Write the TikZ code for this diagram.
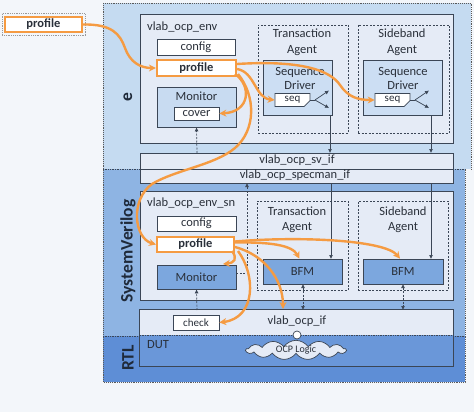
\documentclass[tikz,border=0pt]{standalone}
\usepackage{fontspec}
\setmainfont{Carlito}
\usetikzlibrary{arrows.meta,shapes.symbols,shapes.misc}
\definecolor{pagebg}{HTML}{F3F6FA}
\definecolor{ebg}{HTML}{C5DBF1}
\definecolor{svbg}{HTML}{8EB4E3}
\definecolor{rtlbg}{HTML}{5E8ED6}
\definecolor{innerc}{HTML}{E5EBF6}
\definecolor{sdfill}{HTML}{CCDEF3}
\definecolor{monefill}{HTML}{C8DBF1}
\definecolor{bfmfill}{HTML}{7CA7DE}
\definecolor{dutfill}{HTML}{6A97D9}
\definecolor{boxline}{HTML}{3B4656}
\definecolor{textc}{HTML}{2A303A}
\definecolor{sidec}{HTML}{1F2A3A}
\definecolor{orangec}{HTML}{F59B42}
\begin{document}
\begin{tikzpicture}[x=1pt,y=-1pt,
  box/.style={draw=boxline, line width=0.7pt, inner sep=0pt, font=\fontsize{12.5}{14}\selectfont, text=textc},
  lbl/.style={font=\fontsize{12.5}{14}\selectfont, text=textc, inner sep=0pt},
  orangebox/.style={draw=orangec, line width=2.2pt, fill=white, inner sep=0pt, font=\bfseries\fontsize{12.5}{14}\selectfont, text=textc},
  dashbox/.style={draw=boxline, line width=0.7pt, dash pattern=on 2pt off 1.5pt, inner sep=0pt},
  oarrow/.style={draw=orangec, line width=2.4pt, -{Stealth[length=7pt,width=7pt]}},
  darrow/.style={draw=boxline, line width=0.7pt, -{Latex[length=4pt,width=4pt]}},
  ddash/.style={draw=boxline, line width=0.7pt, dash pattern=on 2pt off 1.5pt},
  outerb/.style={draw=gray!70!black, line width=0.9pt, densely dotted},
  sepline/.style={draw=boxline, line width=0.7pt, densely dotted},
  side/.style={font=\bfseries\fontsize{17.5}{17.5}\selectfont, text=sidec, rotate=90, inner sep=0pt}
]
\useasboundingbox (0,0) rectangle (474,412);
\fill[pagebg] (0,0) rectangle (474,412);
% bands
\fill[ebg] (103,3) rectangle (471,169);
\fill[svbg] (103,169) rectangle (465,336);
\fill[rtlbg] (103,336) rectangle (465,382);
\draw[outerb] (103,3) -- (471,3) -- (471,169);
\draw[outerb] (103,3) -- (103,382) -- (465,382) -- (465,169);
\draw[sepline] (103,169) -- (465,169);
\draw[sepline] (103,336) -- (465,336);
\node[side] (lblE) at (128,97) {e};
\node[side] (lblSV) at (128,251) {SystemVerilog};
\node[side] (lblRTL) at (128,358) {RTL};

% ---------- e environment ----------
\node[box, fill=innerc, minimum width=313, minimum height=129] (envE) at (296.5,78.5) {};
\node[lbl, anchor=west] (envElbl) at (147,27) {vlab\_ocp\_env};
\node[box, fill=white, minimum width=78, minimum height=16] (configE) at (196,47) {config};
\node[orangebox, minimum width=79, minimum height=16] (profileE) at (196.5,68) {profile};
\node[box, fill=monefill, minimum width=79, minimum height=40] (monE) at (196.5,107) {};
\node[lbl] (monElbl) at (196.5,96) {Monitor};
\node[box, fill=white, minimum width=45, minimum height=13] (cover) at (196.5,113.5) {cover};

\node[dashbox, minimum width=90, minimum height=108] (taE) at (303,79) {};
\node[dashbox, minimum width=91, minimum height=108] (sbE) at (403.5,79) {};
\node[lbl, align=center, font=\fontsize{12.5}{16}\selectfont] (taElbl) at (302,42) {Transaction\\Agent};
\node[lbl, align=center, font=\fontsize{12.5}{16}\selectfont] (sbElbl) at (402,42) {Sideband\\Agent};
\node[box, fill=sdfill, minimum width=69, minimum height=55] (sd1) at (297.5,87.5) {};
\node[box, fill=sdfill, minimum width=79, minimum height=55] (sd2) at (402.5,87.5) {};
\node[lbl, align=center, font=\fontsize{12.5}{14}\selectfont] (sd1lbl) at (300,78) {Sequence\\Driver};
\node[lbl, align=center, font=\fontsize{12.5}{14}\selectfont] (sd2lbl) at (403,78) {Sequence\\Driver};
\node[box, fill=white, chamfered rectangle, chamfered rectangle corners=south east, chamfered rectangle xsep=3pt, chamfered rectangle ysep=3pt, minimum width=35, minimum height=12, font=\fontsize{11}{12}\selectfont] (seq1) at (292.5,100) {seq};
\node[box, fill=white, chamfered rectangle, chamfered rectangle corners=south east, chamfered rectangle xsep=3pt, chamfered rectangle ysep=3pt, minimum width=35, minimum height=12, font=\fontsize{11}{12}\selectfont] (seq2) at (392.5,100) {seq};
\coordinate (f1) at (315,100);
\coordinate (f1a) at (329,90.5);
\coordinate (f1b) at (329,108);
\coordinate (f2) at (415,100);
\coordinate (f2a) at (429,90.5);
\coordinate (f2b) at (429,108);
\draw[boxline, line width=0.7pt] (seq1.east) -- (f1);
\draw[darrow] (f1) -- (f1a);
\draw[darrow] (f1) -- (f1b);
\draw[boxline, line width=0.7pt] (seq2.east) -- (f2);
\draw[darrow] (f2) -- (f2a);
\draw[darrow] (f2) -- (f2b);

% ---------- interfaces ----------
\node[box, fill=innerc, minimum width=313, minimum height=16] (svif) at (296.5,161) {};
\node[box, fill=innerc, minimum width=313, minimum height=14] (specif) at (296.5,176) {};
\node[lbl] (sviflbl) at (297,160.5) {vlab\_ocp\_sv\_if};
\node[lbl] (speciflbl) at (295,175.5) {vlab\_ocp\_specman\_if};

\draw[darrow] (330,115) -- (330,153);
\draw[darrow] (431,115) -- (431,153);
\draw[ddash, -{Latex[length=4pt,width=4pt]}] (197,153) -- (monE.south);

% ---------- SV environment ----------
\node[box, fill=innerc, minimum width=313, minimum height=109] (envSV) at (296.5,245.5) {};
\node[lbl, anchor=west] (envSVlbl) at (147,203) {vlab\_ocp\_env\_sn};
\node[box, fill=white, minimum width=79, minimum height=15] (configSV) at (196.5,223.5) {config};
\node[orangebox, minimum width=77, minimum height=15] (profileSV) at (195.5,244.5) {profile};
\node[box, fill=bfmfill, minimum width=79, minimum height=24] (monSV) at (196.5,277) {Monitor};
\node[dashbox, minimum width=91, minimum height=89] (taSV) at (302.5,245.5) {};
\node[dashbox, minimum width=90, minimum height=89] (sbSV) at (403,245.5) {};
\node[lbl, align=center, font=\fontsize{12.5}{15}\selectfont] (taSVlbl) at (297,219.5) {Transaction\\Agent};
\node[lbl, align=center, font=\fontsize{12.5}{15}\selectfont] (sbSVlbl) at (403,219.5) {Sideband\\Agent};
\node[box, fill=bfmfill, minimum width=79, minimum height=25] (bfm1) at (302.5,271.5) {BFM};
\node[box, fill=bfmfill, minimum width=80, minimum height=25] (bfm2) at (403,271.5) {BFM};

\draw[darrow] (331,183) -- (331,259);
\draw[darrow] (431,183) -- (431,259);
\coordinate (mc) at (247,273);
\draw[ddash, -{Latex[length=4pt,width=4pt]}] (monSV.east |- mc) -- (mc) -- (247,183);

% ---------- ocp_if and DUT ----------
\node[fill=innerc, inner sep=0pt, minimum width=313, minimum height=25] (ocpif) at (296.5,322.5) {};
\node[fill=dutfill, inner sep=0pt, minimum width=313, minimum height=31] (dut) at (296.5,350.5) {};
\draw[boxline, line width=0.7pt] (ocpif.north west) rectangle (dut.south east);
\draw[sepline] (ocpif.south west) -- (ocpif.south east);
\node[lbl] (ocpiflbl) at (297,321.5) {vlab\_ocp\_if};
\node[lbl, anchor=west] (dutlbl) at (147,345) {DUT};
\node[box, fill=white, minimum width=46, minimum height=15, font=\fontsize{11}{12}\selectfont] (check) at (196,322.5) {check};
\node[cloud, cloud puffs=13, cloud puff arc=110, aspect=5, draw=boxline, line width=0.7pt, fill=innerc, inner sep=0pt, minimum width=100, minimum height=19, font=\fontsize{10}{11}\selectfont, text=textc] (cloud) at (296,350) {OCP Logic};
\node[circle, draw=boxline, line width=0.7pt, fill=white, inner sep=0pt, minimum size=8] (bub) at (297,335) {};

\draw[ddash, -{Latex[length=4pt,width=4pt]}] (197,310) -- (monSV.south);
\draw[ddash, {Latex[length=4pt,width=4pt]}-{Latex[length=4pt,width=4pt]}] (303,284) -- (303,310);
\draw[ddash, {Latex[length=4pt,width=4pt]}-{Latex[length=4pt,width=4pt]}] (403,284) -- (403,310);

% ---------- top-left profile ----------
\node[orangebox, minimum width=77, minimum height=15] (profileTop) at (43.5,24.5) {profile};
\draw[gray!80, densely dotted, line width=0.8pt] ([xshift=-2pt,yshift=2pt]profileTop.north west) rectangle ([xshift=2pt,yshift=-2pt]profileTop.south east);

% ---------- orange connectors ----------
\draw[oarrow] (profileTop.east) .. controls (112,24) and (120,34) .. (125,48) .. controls (130,62) and (140,68) .. (profileE.west);
\draw[oarrow] ([yshift=-1pt]profileE.east) .. controls (255,72) and (255,98) .. (seq1.west);
\draw[oarrow] ([yshift=4pt]profileE.east) .. controls (300,60) and (330,70) .. (340,85) .. controls (348,97) and (358,100) .. (seq2.west);
\draw[oarrow] (235,74) .. controls (252,86) and (250,112) .. (cover.east);
\draw[oarrow] (238,74) .. controls (256,96) and (256,130) .. (235,148) .. controls (215,165) and (175,170) .. (152,184) .. controls (130,200) and (134,238) .. (profileSV.west);
\draw[oarrow] ([yshift=2pt]profileSV.east) .. controls (270,242) and (292,245) .. ([xshift=-3pt]bfm1.north);
\draw[oarrow] ([yshift=3pt]profileSV.east) .. controls (300,236) and (385,240) .. ([xshift=-3pt]bfm2.north);
\draw[oarrow] (232,251) .. controls (238,259) and (234,263) .. (223,264);
\draw[oarrow] (235,247) .. controls (265,255) and (283,280) .. (283,309);
\draw[oarrow] (238,251) .. controls (256,275) and (256,318) .. (check.east);
\end{tikzpicture}
\end{document}
